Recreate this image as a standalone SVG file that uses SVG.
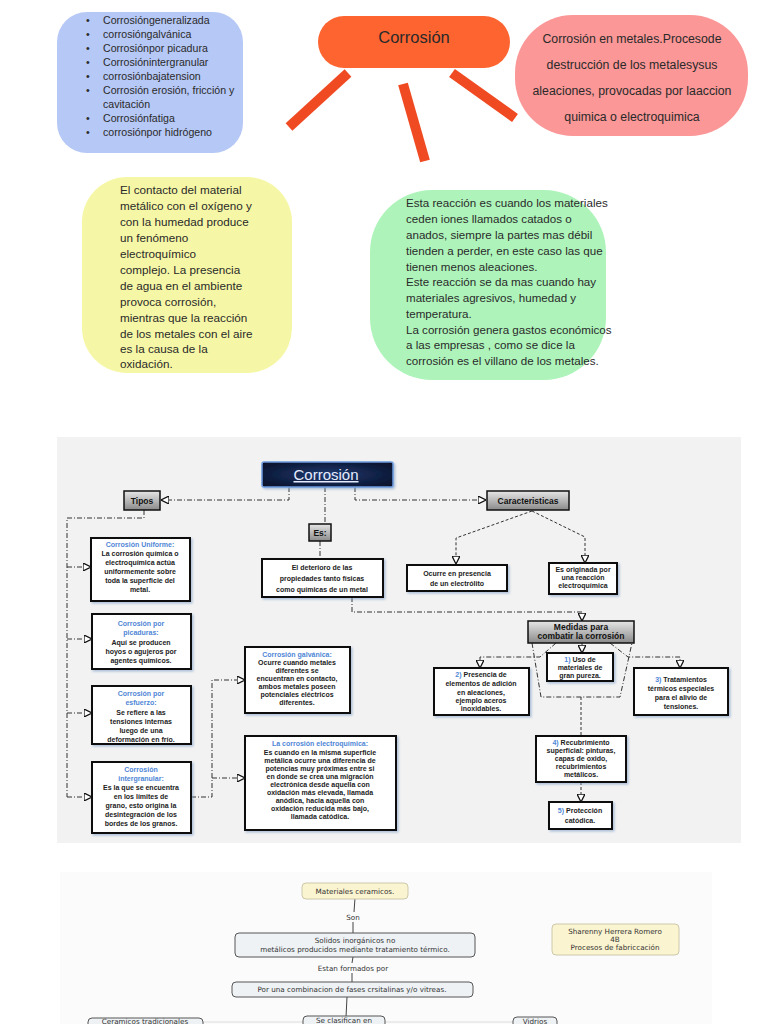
<svg xmlns="http://www.w3.org/2000/svg" width="768" height="1024" viewBox="0 0 768 1024">
<style>
.t1{font-family:"Liberation Sans",Arial,sans-serif;fill:#2a2a2a}
.lst{font-size:10.6px}
.pk{font-size:12.3px;text-anchor:middle}
.yl{font-size:11.7px}
.gr{font-size:11.6px}
.bar{stroke:#f04a22;stroke-width:10;stroke-linecap:butt}
.mb{fill:#fff;stroke:#111;stroke-width:2}
.mt{font-family:"Liberation Sans",Arial,sans-serif;font-size:7px;font-weight:bold;fill:#222;text-anchor:middle}
.mh{fill:#4f86d6}
.gb{fill:url(#gray);stroke:#111;stroke-width:1.5}
.gt{font-family:"Liberation Sans",Arial,sans-serif;font-size:8.5px;font-weight:bold;fill:#111;text-anchor:middle}
.c{fill:none;stroke:#333;stroke-width:1;stroke-dasharray:5 2 1 2}
.cd{fill:none;stroke:#333;stroke-width:1;stroke-dasharray:3 2}
.bt{font-family:"DejaVu Sans",Verdana,sans-serif;font-size:7.2px;fill:#333;text-anchor:middle}
.bb{fill:#eef2f5;stroke:#555;stroke-width:1}
.by{fill:#fbf4d0;stroke:#ccc8a8;stroke-width:1}
.bl{fill:none;stroke:#444;stroke-width:1}
</style>
<defs>
<linearGradient id="gray" x1="0" y1="0" x2="0" y2="1">
<stop offset="0" stop-color="#e6e6e6"/><stop offset="1" stop-color="#8a8a8a"/>
</linearGradient>
<radialGradient id="navy" cx="0.5" cy="0.5" r="0.7">
<stop offset="0" stop-color="#1e3a70"/><stop offset="1" stop-color="#060e24"/>
</radialGradient>
<marker id="ah" viewBox="0 0 10 10" refX="10" refY="5" markerWidth="8" markerHeight="8" markerUnits="userSpaceOnUse" orient="auto">
<path d="M0,0 L10,5 L0,10 Z" fill="#fff" stroke="#111" stroke-width="1.6"/>
</marker>
<filter id="sh" x="-10%" y="-10%" width="130%" height="140%">
<feDropShadow dx="1.5" dy="1.5" stdDeviation="1" flood-color="#7a9cc8" flood-opacity="0.6"/>
</filter>
</defs>
<rect width="768" height="1024" fill="#fff"/>

<!-- Top section -->
<g id="connectors-top">
<line class="bar" x1="348" y1="73" x2="289" y2="127"/>
<line class="bar" x1="403" y1="84" x2="425" y2="161"/>
<line class="bar" x1="452" y1="73" x2="515" y2="118"/>
</g>
<g id="n-tipos-lista">
<rect x="57" y="12" width="186" height="141" rx="30" fill="#b6c8f6"/>
<g class="t1 lst">
<text x="86" y="24">•</text><text x="103" y="24">Corrosióngeneralizada</text>
<text x="86" y="38">•</text><text x="103" y="38">corrosióngalvánica</text>
<text x="86" y="52">•</text><text x="103" y="52">Corrosiónpor picadura</text>
<text x="86" y="66">•</text><text x="103" y="66">Corrosiónintergranular</text>
<text x="86" y="80">•</text><text x="103" y="80">corrosiónbajatension</text>
<text x="86" y="94">•</text><text x="103" y="94">Corrosión erosión, fricción y</text>
<text x="103" y="108">cavitación</text>
<text x="86" y="122">•</text><text x="103" y="122">Corrosiónfatiga</text>
<text x="86" y="136">•</text><text x="103" y="136">corrosiónpor hidrógeno</text>
</g>
</g>
<g id="n-corrosion">
<rect x="318" y="16" width="192" height="52" rx="26" fill="#fd6430"/>
<text class="t1" x="414" y="43" font-size="16.5" text-anchor="middle">Corrosión</text>
</g>
<g id="n-definicion">
<rect x="515" y="15" width="233" height="121" rx="58" fill="#fb9797"/>
<g class="t1 pk">
<text x="632" y="43">Corrosión en metales.Procesode</text>
<text x="632" y="69">destrucción de los metalesysus</text>
<text x="632" y="95">aleaciones, provocadas por laaccion</text>
<text x="632" y="121">quimica o electroquimica</text>
</g>
</g>
<g id="n-contacto">
<rect x="82" y="177" width="210" height="196" rx="45" fill="#f6f7a6"/>
<g class="t1 yl">
<text x="120" y="194">El contacto del material</text>
<text x="120" y="210">metálico con el oxígeno y</text>
<text x="120" y="226">con la humedad produce</text>
<text x="120" y="242">un fenómeno</text>
<text x="120" y="258">electroquímico</text>
<text x="120" y="274">complejo. La presencia</text>
<text x="120" y="290">de agua en el ambiente</text>
<text x="120" y="306">provoca corrosión,</text>
<text x="120" y="322">mientras que la reacción</text>
<text x="120" y="338">de los metales con el aire</text>
<text x="120" y="353">es la causa de la</text>
<text x="120" y="368">oxidación.</text>
</g>
</g>
<g id="n-reaccion">
<rect x="370" y="190" width="236" height="190" rx="62" fill="#aef4ba"/>
<g class="t1 gr">
<text x="406" y="207">Esta reacción es cuando los materiales</text>
<text x="406" y="223">ceden iones llamados catados o</text>
<text x="406" y="239">anados, siempre la partes mas débil</text>
<text x="406" y="255">tienden a perder, en este caso las que</text>
<text x="406" y="271">tienen menos aleaciones.</text>
<text x="406" y="286">Este reacción se da mas cuando hay</text>
<text x="406" y="302">materiales agresivos, humedad y</text>
<text x="406" y="318">temperatura.</text>
<text x="406" y="334">La corrosión genera gastos económicos</text>
<text x="406" y="349">a las empresas , como se dice la</text>
<text x="406" y="365">corrosión es el villano de los metales.</text>
</g>
</g>

<!-- Middle section -->
<rect x="57" y="437" width="684" height="406" fill="#f2f2f2"/>
<g id="connectors-mid">
<path class="c" d="M289,487 V500 H161" marker-end="url(#ah)"/>
<path class="c" d="M325,487 V524"/>
<path class="c" d="M320,541 V559"/>
<path class="c" d="M355,487 V500 H486" marker-end="url(#ah)"/>
<path class="cd" d="M532,511 L456,538 V564" marker-end="url(#ah)"/>
<path class="cd" d="M532,511 L585,537 V563" marker-end="url(#ah)"/>
<path class="c" d="M144,510 V518 H67 V797"/>
<path class="c" d="M67,567 H91" marker-end="url(#ah)"/>
<path class="c" d="M67,639 H92" marker-end="url(#ah)"/>
<path class="c" d="M67,713 H92" marker-end="url(#ah)"/>
<path class="c" d="M67,797 H92" marker-end="url(#ah)"/>
<path class="c" d="M191,797 H212 V680 H245" marker-end="url(#ah)"/>
<path class="c" d="M212,778 H245" marker-end="url(#ah)"/>
<path class="c" d="M352,597 V612 H582 V621" marker-end="url(#ah)"/>
<path class="c" d="M582,643 V653" marker-end="url(#ah)"/>
<path class="c" d="M556,643 L540,657 H480 V668" marker-end="url(#ah)"/>
<path class="c" d="M610,643 L628,657 H680 V668" marker-end="url(#ah)"/>
<path class="c" d="M532,643 L541,697 H620 L632,643"/>
<path class="cd" d="M581,697 V736" stroke-width="1.5"/>
<path class="cd" d="M581,782 V802" stroke-width="1.5" marker-end="url(#ah)"/>
</g>
<g id="n-m-corrosion">
<rect x="262" y="462" width="131" height="25" rx="2" fill="url(#navy)" stroke="#6d9ce0" stroke-width="1.5" filter="url(#sh)"/>
<text x="326" y="480" font-family="Liberation Sans,Arial,sans-serif" font-size="15" fill="#e6ecff" text-anchor="middle" text-decoration="underline">Corrosión</text>
</g>
<g id="n-m-tipos">
<rect class="gb" x="124" y="491" width="36" height="19"/>
<text class="gt" x="142" y="504">Tipos</text>
</g>
<g id="n-m-es">
<rect class="gb" x="309" y="524" width="22" height="17"/>
<text class="gt" x="320" y="536">Es:</text>
</g>
<g id="n-m-caract">
<rect class="gb" x="487" y="491" width="82" height="19"/>
<text class="gt" x="528" y="504">Caracteristicas</text>
</g>
<g id="n-m-ocurre">
<rect class="mb" x="407" y="565" width="100" height="26" filter="url(#sh)"/>
<text class="mt" x="457" y="576" font-size="7.6">Ocurre en presencia</text>
<text class="mt" x="457" y="586" font-size="7.6">de un electrólito</text>
</g>
<g id="n-m-originada">
<rect class="mb" x="549" y="563" width="68" height="31" filter="url(#sh)"/>
<text class="mt" x="583" y="572">Es originada por</text>
<text class="mt" x="583" y="580">una reacción</text>
<text class="mt" x="583" y="588">electroquímica</text>
</g>
<g id="n-m-deterioro">
<rect class="mb" x="262" y="559" width="121" height="38" filter="url(#sh)"/>
<text class="mt" x="322" y="570">El deterioro de las</text>
<text class="mt" x="322" y="581">propiedades tanto físicas</text>
<text class="mt" x="322" y="592">como químicas de un metal</text>
</g>
<g id="n-m-uniforme">
<rect class="mb" x="91" y="538" width="99" height="63" filter="url(#sh)"/>
<text class="mt mh" x="140" y="547">Corrosión Uniforme:</text>
<text class="mt" x="140" y="556">La corrosión química o</text>
<text class="mt" x="140" y="565">electroquímica actúa</text>
<text class="mt" x="140" y="574">uniformemente sobre</text>
<text class="mt" x="140" y="583">toda la superficie del</text>
<text class="mt" x="140" y="592">metal.</text>
</g>
<g id="n-m-picaduras">
<rect class="mb" x="92" y="614" width="99" height="55" filter="url(#sh)"/>
<text class="mt mh" x="141" y="626" font-size="8">Corrosión por</text>
<text class="mt mh" x="141" y="635" font-size="8">picaduras:</text>
<text class="mt" x="141" y="645">Aquí se producen</text>
<text class="mt" x="141" y="654">hoyos o agujeros por</text>
<text class="mt" x="141" y="663">agentes químicos.</text>
</g>
<g id="n-m-esfuerzo">
<rect class="mb" x="92" y="686" width="99" height="58" filter="url(#sh)"/>
<text class="mt mh" x="141" y="696" font-size="8">Corrosión por</text>
<text class="mt mh" x="141" y="705" font-size="8">esfuerzo:</text>
<text class="mt" x="141" y="715">Se refiere a las</text>
<text class="mt" x="141" y="724">tensiones internas</text>
<text class="mt" x="141" y="733">luego de una</text>
<text class="mt" x="141" y="742">deformación en frío.</text>
</g>
<g id="n-m-intergranular">
<rect class="mb" x="92" y="762" width="99" height="71" filter="url(#sh)"/>
<text class="mt mh" x="141" y="772" font-size="8">Corrosión</text>
<text class="mt mh" x="141" y="781" font-size="8">intergranular:</text>
<text class="mt" x="141" y="790">Es la que se encuentra</text>
<text class="mt" x="141" y="799">en los límites de</text>
<text class="mt" x="141" y="808">grano, esto origina la</text>
<text class="mt" x="141" y="817">desintegración de los</text>
<text class="mt" x="141" y="826">bordes de los granos.</text>
</g>
<g id="n-m-galvanica">
<rect class="mb" x="245" y="647" width="105" height="66" filter="url(#sh)"/>
<text class="mt mh" x="297" y="657">Corrosión galvánica:</text>
<text class="mt" x="297" y="665">Ocurre cuando metales</text>
<text class="mt" x="297" y="673">diferentes se</text>
<text class="mt" x="297" y="681">encuentran en contacto,</text>
<text class="mt" x="297" y="689">ambos metales poseen</text>
<text class="mt" x="297" y="697">potenciales eléctricos</text>
<text class="mt" x="297" y="705">diferentes.</text>
</g>
<g id="n-m-electro">
<rect class="mb" x="245" y="736" width="151" height="94" filter="url(#sh)"/>
<text class="mt mh" x="320" y="746" font-size="7.6">La corrosión electroquímica:</text>
<text class="mt" x="320" y="755">Es cuando en la misma superficie</text>
<text class="mt" x="320" y="763">metálica ocurre una diferencia de</text>
<text class="mt" x="320" y="771">potencias muy próximas entre si</text>
<text class="mt" x="320" y="779">en donde se crea una migración</text>
<text class="mt" x="320" y="787">electrónica desde aquella con</text>
<text class="mt" x="320" y="795">oxidación más elevada, llamada</text>
<text class="mt" x="320" y="803">anódica, hacia aquella con</text>
<text class="mt" x="320" y="811">oxidación reducida más bajo,</text>
<text class="mt" x="320" y="819">llamada catódica.</text>
</g>
<g id="n-m-medidas">
<rect class="gb" x="528" y="621" width="106" height="22"/>
<text class="gt" x="581" y="630" font-size="8">Medidas para</text>
<text class="gt" x="581" y="639" font-size="8">combatir la corrosión</text>
</g>
<g id="n-m-m1">
<rect class="mb" x="547" y="653" width="66" height="28" filter="url(#sh)"/>
<text class="mt" x="580" y="662"><tspan class="mh">1)</tspan> Uso de</text>
<text class="mt" x="580" y="670">materiales de</text>
<text class="mt" x="580" y="678">gran pureza.</text>
</g>
<g id="n-m-m2">
<rect class="mb" x="434" y="668" width="95" height="47" filter="url(#sh)"/>
<text class="mt" x="481" y="677"><tspan class="mh">2)</tspan> Presencia de</text>
<text class="mt" x="481" y="686">elementos de adición</text>
<text class="mt" x="481" y="695">en aleaciones,</text>
<text class="mt" x="481" y="703">ejemplo aceros</text>
<text class="mt" x="481" y="711">inoxidables.</text>
</g>
<g id="n-m-m3">
<rect class="mb" x="634" y="668" width="94" height="47" filter="url(#sh)"/>
<text class="mt" x="681" y="682"><tspan class="mh">3)</tspan> Tratamientos</text>
<text class="mt" x="681" y="691">térmicos especiales</text>
<text class="mt" x="681" y="700">para el alivio de</text>
<text class="mt" x="681" y="709">tensiones.</text>
</g>
<g id="n-m-m4">
<rect class="mb" x="536" y="736" width="90" height="46" filter="url(#sh)"/>
<text class="mt" x="581" y="745"><tspan class="mh">4)</tspan> Recubrimiento</text>
<text class="mt" x="581" y="753">superficial: pinturas,</text>
<text class="mt" x="581" y="761">capas de oxido,</text>
<text class="mt" x="581" y="769">recubrimientos</text>
<text class="mt" x="581" y="777">metálicos.</text>
</g>
<g id="n-m-m5">
<rect class="mb" x="549" y="802" width="63" height="27" filter="url(#sh)"/>
<text class="mt" x="580" y="813" font-size="7.6"><tspan class="mh">5)</tspan> Protección</text>
<text class="mt" x="580" y="823" font-size="7.6">catódica.</text>
</g>

<!-- Bottom section -->
<rect x="60" y="872" width="652" height="152" fill="#fbfbfb"/>
<g id="connectors-bottom">
<path class="bl" d="M355,898 L354,912"/>
<path class="bl" d="M353,922 L353,933"/>
<path class="bl" d="M353,957 L352,963"/>
<path class="bl" d="M352,973 L352,982"/>
<path class="bl" d="M347,997 L346,1017"/>
<path d="M203,1022 H303 M385,1022 H513" stroke="#ddd" stroke-width="1"/>
<text class="bt" x="353" y="920">Son</text>
<text class="bt" x="353" y="971">Estan formados por</text>
</g>
<g id="n-b-materiales">
<rect class="by" x="302" y="883" width="106" height="16" rx="4"/>
<text class="bt" x="355" y="894">Materiales ceramicos.</text>
</g>
<g id="n-b-solidos">
<rect class="bb" x="235" y="933" width="240" height="24" rx="4"/>
<text class="bt" x="355" y="943">Solidos inorgánicos no</text>
<text class="bt" x="355" y="952">metálicos producidos mediante tratamiento térmico.</text>
</g>
<g id="n-b-combinacion">
<rect class="bb" x="232" y="982" width="241" height="15" rx="4"/>
<text class="bt" x="352" y="992">Por una combinacion de fases crsitalinas y/o vitreas.</text>
</g>
<g id="n-b-clasifican">
<rect class="bb" x="303" y="1016" width="82" height="16" rx="4"/>
<text class="bt" x="344" y="1023" font-size="6.2">Se clasifican en</text>
</g>
<g id="n-b-tradicionales">
<rect class="bb" x="88" y="1018" width="115" height="14" rx="4"/>
<text class="bt" x="145" y="1023.5" font-size="5.8">Ceramicos tradicionales</text>
</g>
<g id="n-b-vidrios">
<rect class="bb" x="513" y="1017" width="44" height="14" rx="4"/>
<text class="bt" x="535" y="1023.5" font-size="6">Vidrios</text>
</g>
<g id="n-b-autor">
<rect class="by" x="552" y="924" width="127" height="31" rx="4"/>
<text class="bt" x="615" y="934">Sharenny Herrera Romero</text>
<text class="bt" x="615" y="942">4B</text>
<text class="bt" x="615" y="950">Procesos de fabriccación</text>
</g>
</svg>
